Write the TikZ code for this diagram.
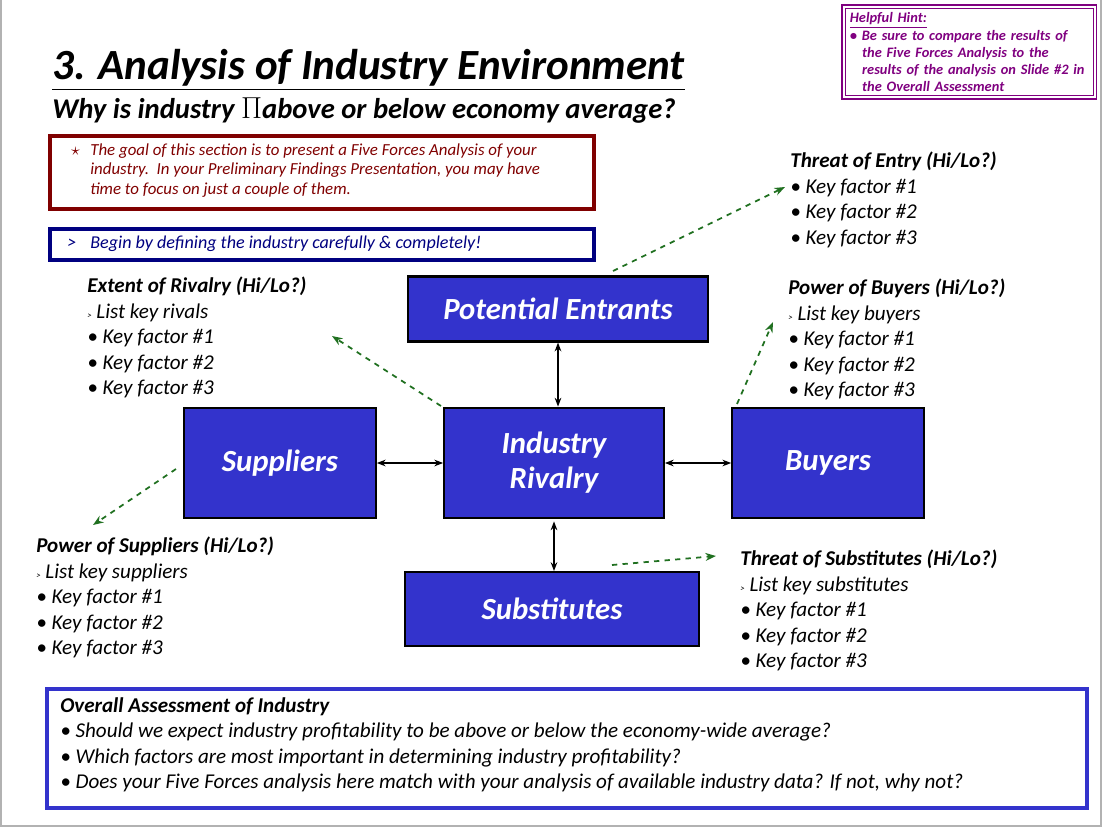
\documentclass[tikz,border=0pt]{standalone}
\usepackage{fontspec}
\setmainfont{Carlito}
\usepackage{tikz}
\usetikzlibrary{arrows.meta, positioning}
\definecolor{forceblue}{HTML}{3333CC}
\definecolor{goalred}{HTML}{800000}
\definecolor{hintpurple}{HTML}{800080}
\definecolor{navyline}{HTML}{000080}
\definecolor{dashgreen}{HTML}{207020}
\tikzset{
  force/.style={draw=black, line width=1.2pt, fill=forceblue, text=white, font=\fontsize{17.5}{20}\selectfont\bfseries\itshape, align=center, inner sep=0pt},
  factors/.style={anchor=north west, inner sep=0pt, align=left, font=\fontsize{12}{14.5}\selectfont\itshape},
  link/.style={{Stealth[length=5pt]}-{Stealth[length=5pt]}, line width=1pt},
  hint/.style={-{Stealth[length=6pt]}, dashgreen, dashed, line width=1pt}
}
\newcommand{\kf}{\textbullet~}
\newcommand{\lk}{{\tiny\textgreater}~}
\begin{document}
\begin{tikzpicture}[x=0.02cm, y=-0.02cm]
\useasboundingbox (0,0) rectangle (1104,828);
% page frame
\draw[gray!60, line width=1.5pt] (1,0) -- (1,826) -- (1101,826) -- (1101,0);

% title
\node[anchor=base west, inner sep=0pt, font=\fontsize{24.5}{28}\selectfont\bfseries\itshape] (title) at (52,80) {\underline{3. Analysis of Industry Environment}};
\node[anchor=base west, inner sep=0pt, font=\fontsize{16.3}{19}\selectfont\bfseries\itshape] (question) at (52,118) {Why is industry $\Pi$above or below economy average?};

% note boxes
\draw[goalred, line width=2.3pt] (50,136) rectangle (594,209);
\node[anchor=north west, inner sep=0pt, align=left, text=goalred, font=\fontsize{9.6}{11.3}\selectfont\itshape] (goal) at (90,143)
  {\makebox[0pt][r]{$\star$\hspace{6pt}}The goal of this section is to present a Five Forces Analysis of your\\ industry.\ \ In your Preliminary Findings Presentation, you may have\\ time to focus on just a couple of them.};
\draw[navyline, line width=2.3pt] (50,229) rectangle (594,260);
\node[anchor=west, inner sep=0pt, text=navyline, font=\fontsize{10.3}{12}\selectfont\itshape] (define) at (90,244)
  {\makebox[0pt][r]{\textgreater\hspace{8pt}}Begin by defining the industry carefully \& completely!};
\node[draw=hintpurple, double, double distance=1.2pt, line width=0.8pt, anchor=north west, text width=136pt, inner sep=3.5pt, align=left, text=hintpurple, font=\fontsize{8.2}{9.7}\selectfont\bfseries\itshape] (hint) at (843,6)
  {\underline{Helpful Hint:}\\ \textbullet\ Be sure to compare the results of\\ \hspace*{7pt}the Five Forces Analysis to the\\ \hspace*{7pt}results of the analysis on Slide \#2 in\\ \hspace*{7pt}the Overall Assessment};

% five forces
\node[force, minimum width=171pt, minimum height=37pt] (entrants) at (558,309) {Potential Entrants};
\node[force, minimum width=125pt, minimum height=63pt] (rivalry) at (554,463) {Industry\\Rivalry};
\node[force, minimum width=109pt, minimum height=63pt] (suppliers) at (280,463) {Suppliers};
\node[force, minimum width=109pt, minimum height=63pt] (buyers) at (828,463) {Buyers};
\node[force, minimum width=167pt, minimum height=42pt] (substitutes) at (552,609) {Substitutes};

\draw[link] (entrants) -- (rivalry.north -| entrants);
\draw[link] (suppliers) -- (rivalry);
\draw[link] (rivalry) -- (buyers);
\draw[link] (rivalry.south) ++(0,2) coordinate (rs) (rs) -- (substitutes.north -| rs);

% factor lists
\node[factors] (entry) at (790,152) {\textbf{Threat of Entry (Hi/Lo?)}\\ \kf Key factor \#1\\ \kf Key factor \#2\\ \kf Key factor \#3};
\node[factors] (rivals) at (87,277) {\textbf{Extent of Rivalry (Hi/Lo?)}\\ \lk List key rivals\\ \kf Key factor \#1\\ \kf Key factor \#2\\ \kf Key factor \#3};
\node[factors] (power) at (788,279) {\textbf{Power of Buyers (Hi/Lo?)}\\ \lk List key buyers\\ \kf Key factor \#1\\ \kf Key factor \#2\\ \kf Key factor \#3};
\node[factors] (supply) at (36,537) {\textbf{Power of Suppliers (Hi/Lo?)}\\ \lk List key suppliers\\ \kf Key factor \#1\\ \kf Key factor \#2\\ \kf Key factor \#3};
\node[factors] (threat) at (740,550) {\textbf{Threat of Substitutes (Hi/Lo?)}\\ \lk List key substitutes\\ \kf Key factor \#1\\ \kf Key factor \#2\\ \kf Key factor \#3};

\coordinate (e1) at (613,271); \coordinate (e2) at (785,187);
\coordinate (r1) at (441,406); \coordinate (r2) at (332,336);
\coordinate (b1) at (737,404); \coordinate (b2) at (773,322);
\coordinate (s1) at (176,469); \coordinate (s2) at (93,525);
\coordinate (t1) at (612,565); \coordinate (t2) at (716,556);
\draw[hint] (e1) -- (e2);
\draw[hint] (r1) -- (r2);
\draw[hint] (b1) -- (b2);
\draw[hint] (s1) -- (s2);
\draw[hint] (t1) -- (t2);

% overall assessment
\draw[forceblue, line width=2.2pt] (47,689) rectangle (1087,808);
\node[factors] (overall) at (60,697) {\textbf{Overall Assessment of Industry}\\ \kf Should we expect industry profitability to be above or below the economy-wide average?\\ \kf Which factors are most important in determining industry profitability?\\ \kf Does your Five Forces analysis here match with your analysis of available industry data? If not, why not?};
\end{tikzpicture}
\end{document}
